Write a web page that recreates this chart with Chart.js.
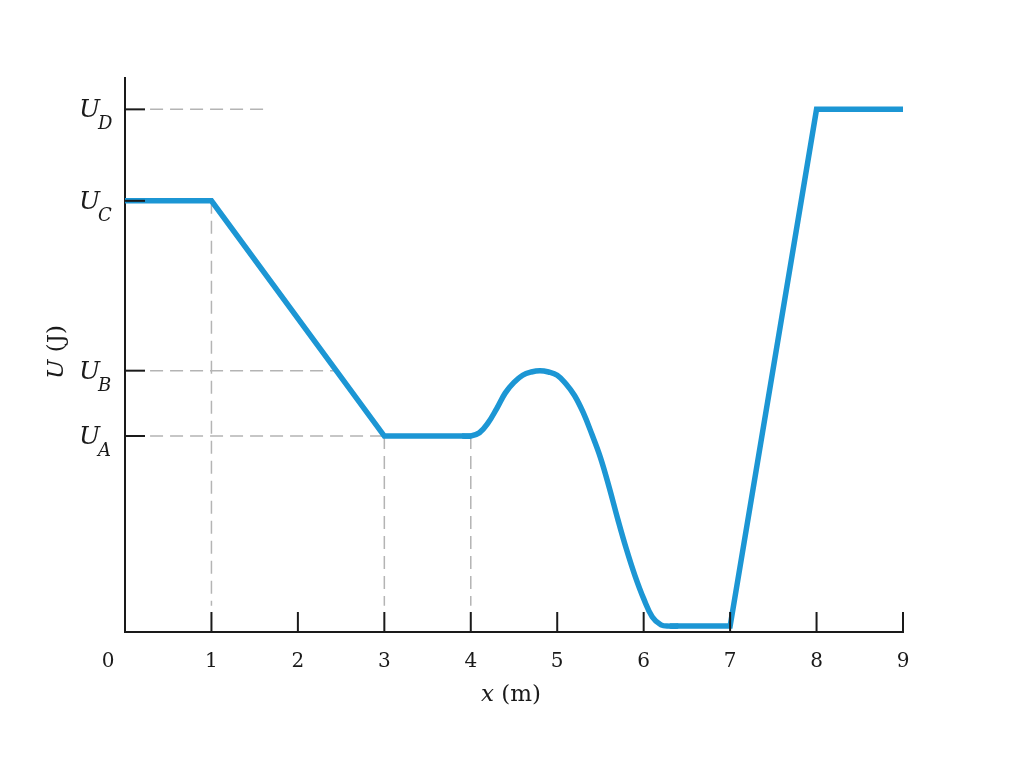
<!DOCTYPE html>
<html>
<head>
<meta charset="utf-8">
<script src="https://cdn.jsdelivr.net/npm/chart.js@4"></script>
<style>
  html, body { margin: 0; padding: 0; background: #ffffff; }
  #wrap { width: 1024px; height: 774px; }
</style>
</head>
<body>
<div id="wrap"><canvas id="chart" width="1024" height="774"></canvas></div>
<script>
// === Data ===
const U_A = 3.0;
const U_B = 4.0;
const U_C = 6.6;
const U_D = 8.0;
const U_FLOOR = 0.09;

const xTicks = [0, 1, 2, 3, 4, 5, 6, 7, 8, 9];
const yLevels = [U_A, U_B, U_C, U_D];
const yLevelNames = ['A', 'B', 'C', 'D'];

const slopePart = [
    { x: 0, y: U_C }, { x: 1, y: U_C }, { x: 3, y: U_A }, { x: 4, y: U_A }
];
// bump between x = 4 and x = 6.3, read every 0.1 m
const bumpX = [3.9, 4.0, 4.1, 4.2, 4.3, 4.4, 4.5, 4.6, 4.7, 4.8, 4.9, 5.0, 5.1, 5.2,
               5.3, 5.4, 5.5, 5.6, 5.7, 5.8, 5.9, 6.0, 6.1, 6.2, 6.3, 6.4];
const bumpU = [3.0, 3.0, 3.05, 3.2, 3.42, 3.66, 3.82, 3.93, 3.98, 4.0, 3.98, 3.93, 3.8, 3.62,
               3.36, 3.03, 2.67, 2.22, 1.73, 1.27, 0.86, 0.51, 0.23, 0.11, 0.09, 0.09];
const risePart = [
    { x: 6.3, y: U_FLOOR }, { x: 7, y: U_FLOOR }, { x: 8, y: U_D }, { x: 9, y: U_D }
];

// dashed guide lines
const guideUD = [{ x: 0.29, y: U_D }, { x: 1.62, y: U_D }];
const guideUB = [{ x: 0.29, y: U_B }, { x: 2.44, y: U_B }];
const guideUA = [{ x: 0.29, y: U_A }, { x: 3, y: U_A }];
const guideX1 = [{ x: 1, y: U_C }, { x: 1, y: 0.4 }];
const guideX3 = [{ x: 3, y: U_A }, { x: 3, y: 0.4 }];
const guideX4 = [{ x: 4, y: U_A }, { x: 4, y: 0.4 }];

const BLUE = '#1c96d4';
const SERIF = '"DejaVu Serif", "Liberation Serif", serif';

function curve(data, tension) {
    return {
        data,
        borderColor: BLUE,
        borderWidth: 5.5,
        pointRadius: 0,
        fill: false,
        tension: tension,
        borderJoinStyle: 'miter',
        borderCapStyle: 'butt',
        order: 1
    };
}

function guide(data) {
    return {
        data,
        borderColor: '#b4b4b4',
        borderWidth: 1.5,
        borderDash: [13, 7],
        pointRadius: 0,
        fill: false,
        tension: 0,
        order: 2
    };
}

// ticks, tick labels and axis titles
const axisDecorPlugin = {
    id: 'axisDecor',
    afterDraw(chart) {
        const { ctx, scales } = chart;
        const xs = scales.x, ys = scales.y;
        const x0 = xs.getPixelForValue(0);
        const y0 = ys.getPixelForValue(0);
        ctx.save();
        ctx.strokeStyle = '#1a1a1a';
        ctx.lineWidth = 2;
        // x ticks pointing up
        xTicks.forEach(v => {
            if (v === 0) return;
            const px = xs.getPixelForValue(v);
            ctx.beginPath();
            ctx.moveTo(px, y0);
            ctx.lineTo(px, y0 - 20);
            ctx.stroke();
        });
        // y ticks pointing right
        yLevels.forEach(v => {
            const py = ys.getPixelForValue(v);
            ctx.beginPath();
            ctx.moveTo(x0, py);
            ctx.lineTo(x0 + 20, py);
            ctx.stroke();
        });

        ctx.fillStyle = '#1a1a1a';
        ctx.font = '20px ' + SERIF;
        ctx.textAlign = 'center';
        ctx.textBaseline = 'alphabetic';
        xTicks.forEach(v => {
            const px = v === 0 ? x0 - 17 : xs.getPixelForValue(v);
            ctx.fillText(String(v), px, y0 + 35);
        });

        ctx.textAlign = 'left';
        yLevels.forEach((v, i) => {
            const py = ys.getPixelForValue(v);
            ctx.font = 'italic 25px ' + SERIF;
            ctx.fillText('U', 79, py + 8);
            ctx.font = 'italic 18px ' + SERIF;
            ctx.fillText(yLevelNames[i], 98, py + 20);
        });

        // x title
        ctx.font = 'italic 23px ' + SERIF;
        const wx = ctx.measureText('x').width;
        ctx.font = '23px ' + SERIF;
        const wm = ctx.measureText(' (m)').width;
        let tx = 511 - (wx + wm) / 2;
        ctx.font = 'italic 23px ' + SERIF;
        ctx.fillText('x', tx, 701);
        ctx.font = '23px ' + SERIF;
        ctx.fillText(' (m)', tx + wx, 701);

        // y title
        ctx.translate(63, 352);
        ctx.rotate(-Math.PI / 2);
        ctx.font = 'italic 23px ' + SERIF;
        const wu = ctx.measureText('U').width;
        ctx.font = '23px ' + SERIF;
        const wj = ctx.measureText(' (J)').width;
        tx = -(wu + wj) / 2;
        ctx.font = 'italic 23px ' + SERIF;
        ctx.fillText('U', tx, 0);
        ctx.font = '23px ' + SERIF;
        ctx.fillText(' (J)', tx + wu, 0);
        ctx.restore();
    }
};

const bumpPart = bumpX.map((x, i) => ({ x, y: bumpU[i] }));

const ctx = document.getElementById('chart').getContext('2d');

new Chart(ctx, {
    type: 'line',
    data: {
        datasets: [
            curve(slopePart, 0),
            curve(bumpPart, 0.4),
            curve(risePart, 0),
            guide(guideUD),
            guide(guideUB),
            guide(guideUA),
            guide(guideX1),
            guide(guideX3),
            guide(guideX4)
        ]
    },
    options: {
        responsive: false,
        animation: false,
        layout: { padding: { left: 117, right: 121, top: 78, bottom: 134 } },
        scales: {
            x: {
                type: 'linear',
                min: 0,
                max: 9,
                grid: { display: false },
                ticks: { display: false },
                border: { display: true, color: '#1a1a1a', width: 2 }
            },
            y: {
                type: 'linear',
                min: 0,
                max: 8.48,
                grid: { display: false },
                ticks: { display: false },
                border: { display: true, color: '#1a1a1a', width: 2 }
            }
        },
        plugins: {
            legend: { display: false },
            title: { display: false },
            tooltip: { enabled: false }
        }
    },
    plugins: [axisDecorPlugin]
});
</script>
</body>
</html>
